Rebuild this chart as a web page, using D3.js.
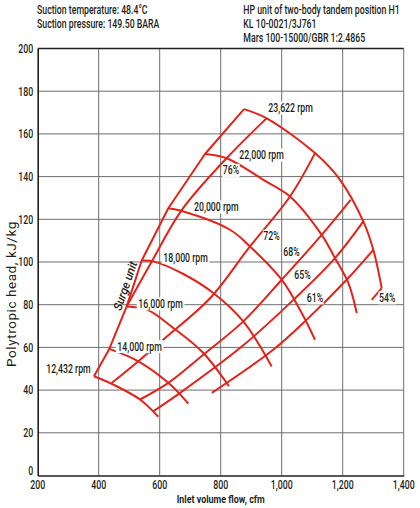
<!DOCTYPE html>
<html><head><meta charset="utf-8">
<script src="https://cdn.jsdelivr.net/npm/d3@7"></script>
<style>html,body{margin:0;padding:0;background:#fff}svg{display:block}</style>
</head><body>
<svg id="chart" width="420" height="508"></svg>
<script>
// ---------- data ----------
const xTickValues = [200, 400, 600, 800, 1000, 1200, 1400];
const yTickValues = [0, 20, 40, 60, 80, 100, 120, 140, 160, 180, 200];

const speedLabels = ["12,432 rpm", "14,000 rpm", "16,000 rpm", "18,000 rpm", "20,000 rpm", "22,000 rpm", "23,622 rpm"];
const speed12432 = [[384.5, 46.5], [447.8, 42.6], [535.4, 35.6], [595.4, 27.5]];
const speed14000 = [[434.7, 59.3], [529.8, 53.5], [628.2, 43.4], [693.7, 33.7]];
const speed16000 = [[491.8, 79.2], [560, 77.6], [644.6, 69.1], [742.9, 57.4], [827.2, 41.8]];
const speed18000 = [[541, 100.7], [579, 100.3], [676, 94.5], [775.7, 85.5], [874, 72.2], [967.2, 51.1]];
const speed20000 = [[628.2, 125.2], [666.5, 124.1], [830.5, 115.1], [896, 107.3], [1000, 91.7], [1065.6, 76.1], [1109.2, 63.6]];
const speed22000 = [[748.5, 150.6], [819.7, 148.6], [939.7, 138.5], [1027.2, 130.7], [1131.2, 112.7], [1174.8, 101.8], [1218.4, 90.2], [1246, 76.1]];
const speed23622 = [[876.4, 171.6], [950.8, 167.3], [1109.2, 151], [1191.2, 138.5], [1267.6, 119], [1300.4, 105.7], [1327.9, 87.8]];
const speedCurves = [speed12432, speed14000, speed16000, speed18000, speed20000, speed22000, speed23622];

const effLabels = ["76%", "72%", "68%", "65%", "61%", "54%"];
const eff76 = [[491.8, 79.2], [574, 100.2], [672, 124.3], [820, 148.7], [951, 167.4]];
const eff72 = [[442.6, 43.3], [530, 53.5], [617, 64.3], [765, 83], [896, 107.3], [1027.2, 130.7], [1109.2, 151]];
const eff68 = [[535.4, 35.6], [628.2, 43.4], [743, 56.6], [874, 72.2], [1000, 91.7], [1131.2, 112.7], [1226, 129.1]];
const eff65 = [[579, 30.1], [660, 38], [870, 60.5], [1040, 82.5], [1174.8, 101.8], [1267.6, 119]];
const eff61 = [[771, 38.7], [972, 58.9], [1082, 73], [1213, 91.7], [1300.4, 105.7]];
const eff54 = [[1327.9, 87.8], [1295, 82.3]];
const effLines = [eff76, eff72, eff68, eff65, eff61, eff54];

const headerLeft = ["Suction temperature: 48.4°C", "Suction pressure: 149.50 BARA"];
const headerRight = ["HP unit of two-body tandem position H1", "KL 10-0021/3J761", "Mars 100-15000/GBR 1:2.4865"];
const xTitle = "Inlet volume flow, cfm";
const yTitle = "Polytropic head, kJ/kg";
const surgeLabel = "Surge unit";

// annotation anchors (data units)
const speedLabelPos = [[373.8, 48.2], [461, 58.5], [529.8, 78.5], [611.8, 100.2], [712.5, 123.9], [861, 148.2], [956, 170.3]];
const effLabelPos = [[806.6, 141], [939.7, 110.1], [1005.2, 102.9], [1041.3, 92.1], [1082, 81.3], [1319, 81.3]];
const surgeLabelPos = [500, 88.2];

// ---------- drawing ----------
const RED = "#e2231a", INK = "#231f20", GRID = "#6d6e71";
const FONT = "Roboto, 'Liberation Sans', Arial, sans-serif";
const FS = 12.5, SX = 0.7, FW = 500;

const svg = d3.select("#chart");
const x = d3.scaleLinear().domain([200, 1400]).range([37.7, 403.7]);
const y = d3.scaleLinear().domain([0, 200]).range([475.5, 48.5]);

function label(parent, px, py, s, o = {}) {
  const tr = `translate(${px},${py})` + (o.rotate ? ` rotate(${o.rotate})` : "");
  const g = parent.append("g").attr("transform", tr);
  const inner = g.append("g");
  const t = inner.append("text")
    .attr("text-anchor", o.anchor || "start")
    .attr("font-family", FONT)
    .attr("font-size", o.size || FS)
    .attr("font-weight", o.weight || FW)
    .attr("font-style", o.italic ? "italic" : "normal")
    .attr("letter-spacing", o.ls || 0)
    .attr("fill", INK)
    .text(s);
  let sx = o.sx || SX;
  if (o.fit) sx = o.fit / t.node().getComputedTextLength();
  inner.attr("transform", `scale(${sx},1)`);
  if (o.bg) {
    const b = t.node().getBBox();
    const p = o.bg;
    inner.insert("rect", "text").attr("x", b.x - p / sx).attr("y", b.y + 1)
      .attr("width", b.width + 2 * p / sx).attr("height", b.height - 2).attr("fill", "#fff");
  }
  return g;
}

// grid
const grid = svg.append("g");
grid.selectAll("line.gx").data(xTickValues.slice(1)).join("line")
  .attr("x1", d => x(d)).attr("x2", d => x(d)).attr("y1", y(0)).attr("y2", y(200))
  .attr("stroke", GRID).attr("stroke-width", 1);
grid.selectAll("line.gy").data(yTickValues.slice(1, -1)).join("line")
  .attr("x1", x(200)).attr("x2", x(1400)).attr("y1", d => y(d)).attr("y2", d => y(d))
  .attr("stroke", GRID).attr("stroke-width", 1);
grid.append("line").attr("x1", x(200)).attr("x2", x(1400)).attr("y1", y(200)).attr("y2", y(200))
  .attr("stroke", INK).attr("stroke-width", 1.6);

// axes
const xAxis = d3.axisBottom(x).tickValues(xTickValues).tickSize(0).tickFormat(d3.format(","));
const yAxis = d3.axisLeft(y).tickValues(yTickValues).tickSize(0).tickFormat(d3.format("d"));
const gx = svg.append("g").attr("transform", `translate(0,${y(0)})`).call(xAxis);
const gy = svg.append("g").attr("transform", `translate(${x(200)},0)`).call(yAxis);
[gx, gy].forEach(g => {
  g.select(".domain").attr("stroke", INK).attr("stroke-width", 1.6);
  g.selectAll(".tick text").remove();
});
gx.selectAll(".tick").each(function (d) {
  label(svg, x(d), 489.3, d3.format(",")(d), { anchor: "middle", size: 12, sx: 0.73 });
});
gy.selectAll(".tick").each(function (d) {
  label(svg, 33.3, y(d) + 4.3 - (d === 0 ? 4.5 : 0), String(d), { anchor: "end", size: 12, sx: 0.73 });
});

// axis titles
label(svg, x(800), 502.8, xTitle, { anchor: "middle", weight: 700, size: 11, fit: 88 });
label(svg, 16, 294, yTitle, { anchor: "middle", rotate: -90, size: 12, weight: 400, ls: 0.5, fit: 146 });

// header
headerLeft.forEach((s, i) => label(svg, 37, 14 + i * 14, s));
headerRight.forEach((s, i) => label(svg, 243.3, 14 + i * 14, s));

// curves
const line = d3.line().x(d => x(d[0])).y(d => y(d[1])).curve(d3.curveCatmullRom.alpha(0.5));
const lineLin = d3.line().x(d => x(d[0])).y(d => y(d[1]));
const curves = svg.append("g").attr("fill", "none").attr("stroke", RED)
  .attr("stroke-width", 2).attr("stroke-linejoin", "round").attr("stroke-linecap", "butt");

curves.selectAll("path.speed").data(speedCurves).join("path").attr("d", line);
curves.selectAll("path.eff").data(effLines).join("path").attr("d", line);
const surge = speedCurves.map(c => c[0]);
curves.append("path").attr("d", lineLin(surge));

// labels
speedLabels.forEach((s, i) => {
  const p = speedLabelPos[i];
  label(svg, x(p[0]), y(p[1]), s, { anchor: i === 0 ? "end" : "start", bg: 1.5 });
});
effLabels.forEach((s, i) => {
  const p = effLabelPos[i];
  label(svg, x(p[0]), y(p[1]), s, { bg: 0.5 });
});
label(svg, x(surgeLabelPos[0]), y(surgeLabelPos[1]), surgeLabel,
  { anchor: "middle", rotate: -71, italic: true, size: 12, fit: 51 });
</script>
</body></html>
